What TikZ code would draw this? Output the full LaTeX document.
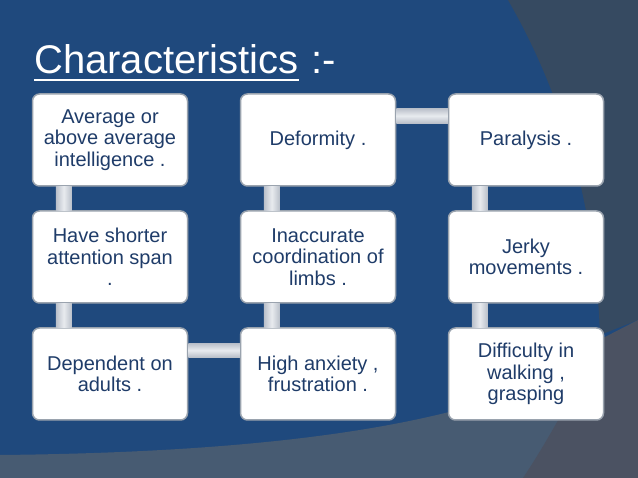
\documentclass[tikz,border=0pt]{standalone}
\usepackage{fontspec}
\setmainfont{Liberation Sans}
\usetikzlibrary{positioning}
\definecolor{bgblue}{HTML}{1F497D}
\definecolor{bgslate}{HTML}{364A61}
\definecolor{bggrey}{HTML}{475B72}
\definecolor{bgdark}{HTML}{4B5262}
\definecolor{cardedge}{HTML}{9AA3AE}
\definecolor{cardtext}{HTML}{1F3C69}
\definecolor{barside}{HTML}{B9BFC9}
\definecolor{barmid}{HTML}{E8EBEF}

\begin{document}
\begin{tikzpicture}[
  x=1pt, y=-1pt,
  node distance=23.5pt and 51.5pt,
  card/.style={draw=cardedge, line width=1.5pt, fill=white, rounded corners=7pt, minimum width=155pt, minimum height=92pt, align=center, text=cardtext, font=\fontsize{20}{21.5}\selectfont},
  vbar/.style={left color=barside, right color=barside, middle color=barmid},
  hbar/.style={top color=barside, bottom color=barside, middle color=barmid},
  title/.style={text=white, font=\fontsize{40}{48}\selectfont, inner sep=0pt, anchor=base west}
]
\fill[bgblue] (0,0) rectangle (638,478);
\fill[bgslate] (508,0) .. controls (560,90) and (595,200) .. (600,335) -- (638,320) -- (638,0) -- cycle;
\fill[bggrey] (0,455) .. controls (300,452) and (540,420) .. (638,320) -- (638,478) -- (0,478) -- cycle;
\fill[bgdark] (523,478) .. controls (555,430) and (585,370) .. (603,338) -- (638,320) -- (638,478) -- cycle;

\node[title] (ttl) at (34,74) {Characteristics};
\node[title] (ttlmark) at ([xshift=12pt]ttl.base east) {:-};
\draw[white, line width=2pt] ([yshift=-6pt]ttl.base west) -- ([yshift=-6pt]ttl.base east);

\node[card] (avg) at (110,140) {Average or\\above average\\intelligence .};
\node[card, below=of avg] (span) {Have shorter\\attention span\\.};
\node[card, below=of span] (dep) {Dependent on\\adults .};
\node[card, right=of dep] (anx) {High anxiety ,\\frustration .};
\node[card, above=of anx] (coord) {Inaccurate\\coordination of\\limbs .};
\node[card, above=of coord] (deform) {Deformity .};
\node[card, right=of deform] (paral) {Paralysis .};
\node[card, below=of paral] (jerky) {Jerky\\movements .};
\node[card, below=of jerky] (walk) {Difficulty in\\walking ,\\grasping};

\shade[vbar] ([xshift=24pt]avg.south west) rectangle ([xshift=40pt]span.north west);
\shade[vbar] ([xshift=24pt]span.south west) rectangle ([xshift=40pt]dep.north west);
\shade[hbar] ([yshift=-16pt]dep.north east) rectangle ([yshift=-30pt]anx.north west);
\shade[vbar] ([xshift=24pt]coord.south west) rectangle ([xshift=40pt]anx.north west);
\shade[vbar] ([xshift=24pt]deform.south west) rectangle ([xshift=40pt]coord.north west);
\shade[hbar] ([yshift=-15pt]deform.north east) rectangle ([yshift=-30pt]paral.north west);
\shade[vbar] ([xshift=24pt]paral.south west) rectangle ([xshift=40pt]jerky.north west);
\shade[vbar] ([xshift=24pt]jerky.south west) rectangle ([xshift=40pt]walk.north west);
\end{tikzpicture}
\end{document}
